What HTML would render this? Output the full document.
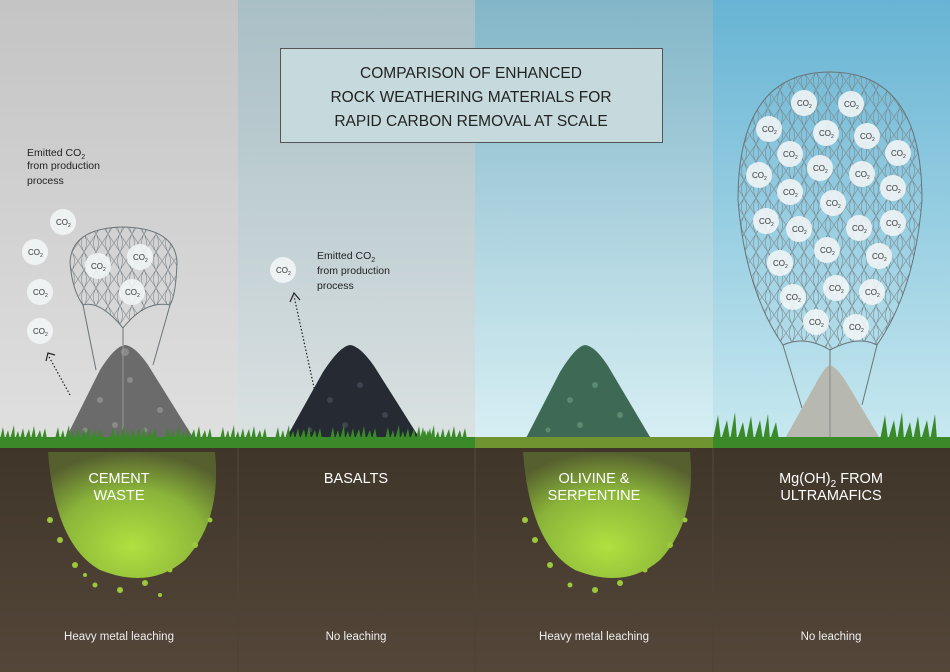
<!DOCTYPE html>
<html><head><meta charset="utf-8"><style>
html,body{margin:0;padding:0;width:950px;height:672px;overflow:hidden;background:#fff}
svg{display:block}
text{font-family:"Liberation Sans",Arial,sans-serif}
</style></head><body>
<svg width="950" height="672" viewBox="0 0 950 672" xmlns="http://www.w3.org/2000/svg">
<defs>
<linearGradient id="s1" x1="0" y1="0" x2="0" y2="1"><stop offset="0" stop-color="#c4c4c4"/><stop offset="1" stop-color="#e0e0e0"/></linearGradient>
<linearGradient id="s2" x1="0" y1="0" x2="0" y2="1"><stop offset="0" stop-color="#a9bfc6"/><stop offset="1" stop-color="#dbe2e2"/></linearGradient>
<linearGradient id="s3" x1="0" y1="0" x2="0" y2="1"><stop offset="0" stop-color="#83b6c8"/><stop offset="1" stop-color="#d8f0f5"/></linearGradient>
<linearGradient id="s4" x1="0" y1="0" x2="0" y2="1"><stop offset="0" stop-color="#67b4d4"/><stop offset="1" stop-color="#c9e9f0"/></linearGradient>
<linearGradient id="gr" x1="0" y1="0" x2="0" y2="1"><stop offset="0" stop-color="#3f3529"/><stop offset="1" stop-color="#54473a"/></linearGradient>
<radialGradient id="glow" cx="0.5" cy="0.75" r="0.75"><stop offset="0" stop-color="#b0e040"/><stop offset="0.6" stop-color="#8ab43a"/><stop offset="1" stop-color="#56602f"/></radialGradient>
<pattern id="net" width="12" height="18" patternUnits="userSpaceOnUse"><path d="M0 0 Q5 9 0 18 M12 0 Q7 9 12 18 M0 0 L6 9 L12 0 M0 18 L6 9 L12 18" stroke="#79848a" stroke-width="0.55" fill="none"/></pattern>
<g id="co2"><circle r="13" fill="#f2f6f7" opacity="0.88"/><text x="-7" y="3" font-size="8" fill="#333">CO<tspan font-size="5" dy="2">2</tspan></text></g>
<g id="blades"><path d="M0 12 l3 -12 l2 12 l3 -9 l2 9 l4 -14 l1 14 l3 -8 l2 8 l3 -11 l2 11 l4 -10 l2 10 l3 -13 l2 13 l4 -9 l2 9 l3 -11 l2 11" fill="#3a8a2a"/></g>
</defs>
<rect x="0" y="0" width="238" height="448" fill="url(#s1)"/>
<rect x="238" y="0" width="237" height="448" fill="url(#s2)"/>
<rect x="475" y="0" width="238" height="448" fill="url(#s3)"/>
<rect x="713" y="0" width="237" height="448" fill="url(#s4)"/>
<rect x="0" y="448" width="950" height="224" fill="url(#gr)"/>
<line x1="238" y1="448" x2="238" y2="672" stroke="#4d4336" stroke-width="1.5"/>
<line x1="475" y1="448" x2="475" y2="672" stroke="#4d4336" stroke-width="1.5"/>
<line x1="713" y1="448" x2="713" y2="672" stroke="#4d4336" stroke-width="1.5"/>

<!-- glows -->
<path d="M48 452 L215 452 Q222 520 185 560 Q150 590 100 570 Q55 545 48 452Z" fill="url(#glow)"/>
<g fill="#9cc83c"><circle cx="50" cy="520" r="3"/><circle cx="60" cy="540" r="3"/><circle cx="75" cy="565" r="3"/><circle cx="95" cy="585" r="2.5"/><circle cx="120" cy="590" r="3"/><circle cx="145" cy="583" r="3"/><circle cx="170" cy="570" r="2.5"/><circle cx="195" cy="545" r="3"/><circle cx="210" cy="520" r="2.5"/><circle cx="85" cy="575" r="2"/><circle cx="160" cy="595" r="2"/></g>
<path d="M523 452 L690 452 Q697 520 660 560 Q625 590 575 570 Q530 545 523 452Z" fill="url(#glow)"/>
<g fill="#9cc83c"><circle cx="525" cy="520" r="3"/><circle cx="535" cy="540" r="3"/><circle cx="550" cy="565" r="3"/><circle cx="570" cy="585" r="2.5"/><circle cx="595" cy="590" r="3"/><circle cx="620" cy="583" r="3"/><circle cx="645" cy="570" r="2.5"/><circle cx="670" cy="545" r="3"/><circle cx="685" cy="520" r="2.5"/></g>

<!-- title -->
<rect x="280.5" y="48.5" width="382" height="94" fill="#c6dadd" stroke="#555" stroke-width="1"/>
<text x="471" y="78" font-size="15.5" text-anchor="middle" fill="#222">COMPARISON OF ENHANCED</text>
<text x="471" y="102" font-size="15.5" text-anchor="middle" fill="#222">ROCK WEATHERING MATERIALS FOR</text>
<text x="471" y="126" font-size="15.5" text-anchor="middle" fill="#222">RAPID CARBON REMOVAL AT SCALE</text>

<!-- panel 1 -->
<text x="27" y="156" font-size="10.5" fill="#222">Emitted CO<tspan font-size="7" dy="3">2</tspan></text>
<text x="27" y="169" font-size="10.5" fill="#222">from production</text>
<text x="27" y="184" font-size="10.5" fill="#222">process</text>
<use href="#co2" x="63" y="222"/><use href="#co2" x="35" y="252"/><use href="#co2" x="40" y="292"/><use href="#co2" x="40" y="331"/>
<path d="M70 262 Q72 228 123 227 Q175 228 177 262 Q176 295 170 305 Q145 300 123 328 Q100 300 83 305 Q72 290 70 262Z" fill="url(#net)" stroke="#6a7478" stroke-width="1"/>
<use href="#co2" x="98" y="266"/><use href="#co2" x="140" y="257"/><use href="#co2" x="132" y="292"/>
<path d="M83 305 L96 370 M170 305 L153 365 M123 328 L123 440" stroke="#6a7478" stroke-width="1" fill="none"/>
<path d="M64 442 L100 370 Q115 346 125 345 Q135 346 148 365 L196 442Z" fill="#6b6b6b"/>
<g fill="#8a8a8a"><circle cx="100" cy="400" r="3"/><circle cx="130" cy="380" r="3"/><circle cx="160" cy="410" r="3"/><circle cx="115" cy="425" r="3"/><circle cx="145" cy="430" r="2.5"/><circle cx="85" cy="430" r="2.5"/><circle cx="125" cy="352" r="4"/></g>
<line x1="123" y1="345" x2="123" y2="440" stroke="#999" stroke-width="1"/>
<path d="M70 395 L48 355" stroke="#222" stroke-dasharray="1.5,2" stroke-width="1.2"/>
<path d="M46 361 L48 353 L55 355" stroke="#222" fill="none" stroke-width="1.2"/>

<!-- panel 2 -->
<use href="#co2" x="283" y="270"/>
<text x="317" y="259" font-size="10.5" fill="#222">Emitted CO<tspan font-size="7" dy="3">2</tspan></text>
<text x="317" y="274" font-size="10.5" fill="#222">from production</text>
<text x="317" y="289" font-size="10.5" fill="#222">process</text>
<path d="M315 392 L294 296" stroke="#222" stroke-dasharray="1.5,2" stroke-width="1.2"/>
<path d="M290 302 L294 293 L300 300" stroke="#222" fill="none" stroke-width="1.2"/>
<path d="M284 442 L323 372 Q340 346 350 345 Q360 346 374 366 L422 442Z" fill="#252a33"/>
<g fill="#3d4450"><circle cx="330" cy="400" r="3"/><circle cx="360" cy="385" r="3"/><circle cx="385" cy="415" r="3"/><circle cx="345" cy="425" r="3"/><circle cx="310" cy="430" r="2.5"/></g>

<!-- panel 3 -->
<path d="M524 442 L560 372 Q576 346 585 345 Q595 346 608 366 L653 442Z" fill="#3e6a55"/>
<g fill="#5a8a70"><circle cx="570" cy="400" r="3"/><circle cx="595" cy="385" r="3"/><circle cx="620" cy="415" r="3"/><circle cx="580" cy="425" r="3"/><circle cx="548" cy="430" r="2.5"/></g>

<!-- panel 4 -->
<path d="M738 200 Q738 72 830 72 Q922 72 922 200 Q915 290 877 345 Q858 335 830 350 Q805 335 783 345 Q745 290 738 200Z" fill="url(#net)" stroke="#6a7478" stroke-width="1"/>
<g>
<use href="#co2" x="804" y="103"/><use href="#co2" x="851" y="104"/><use href="#co2" x="769" y="129"/><use href="#co2" x="826" y="133"/><use href="#co2" x="867" y="136"/><use href="#co2" x="898" y="153"/><use href="#co2" x="790" y="154"/><use href="#co2" x="820" y="168"/><use href="#co2" x="862" y="174"/><use href="#co2" x="759" y="175"/><use href="#co2" x="893" y="188"/><use href="#co2" x="790" y="192"/><use href="#co2" x="833" y="203"/><use href="#co2" x="766" y="221"/><use href="#co2" x="799" y="229"/><use href="#co2" x="859" y="228"/><use href="#co2" x="893" y="223"/><use href="#co2" x="827" y="250"/><use href="#co2" x="879" y="256"/><use href="#co2" x="780" y="263"/><use href="#co2" x="836" y="288"/><use href="#co2" x="872" y="292"/><use href="#co2" x="793" y="297"/><use href="#co2" x="816" y="322"/><use href="#co2" x="856" y="327"/>
</g>
<path d="M783 345 L802 408 M877 345 L862 405 M830 350 L830 440" stroke="#6a7478" stroke-width="1" fill="none"/>
<path d="M783 442 L815 385 Q825 366 830 365 Q838 368 848 385 L882 442Z" fill="#b7b9b0"/>
<line x1="830" y1="365" x2="830" y2="440" stroke="#888" stroke-width="1"/>

<!-- grass -->
<rect x="0" y="437" width="950" height="11" fill="#3a8a2a"/>
<rect x="475" y="437" width="238" height="11" fill="#6f9430"/>
<use href="#blades" x="0" y="427"/><use href="#blades" x="55" y="427"/><use href="#blades" x="110" y="427"/><use href="#blades" x="165" y="427"/><use href="#blades" x="220" y="427"/><use href="#blades" x="275" y="427"/><use href="#blades" x="330" y="427"/><use href="#blades" x="385" y="427"/><use href="#blades" x="420" y="427"/>
<path d="M713 440 l5 -25 l3 25 l6 -20 l3 20 l5 -28 l2 28 l6 -18 l3 18 l5 -24 l3 24 l6 -20 l3 20 l5 -26 l2 26 l6 -18 l3 18" fill="#3a8a2a"/>
<path d="M880 440 l5 -25 l3 25 l6 -20 l3 20 l5 -28 l2 28 l6 -18 l3 18 l5 -24 l3 24 l6 -20 l3 20 l5 -26 l2 26" fill="#3a8a2a"/>

<!-- labels -->
<g fill="#fff" font-size="14.5" text-anchor="middle">
<text x="119" y="483">CEMENT</text><text x="119" y="500">WASTE</text>
<text x="356" y="483">BASALTS</text>
<text x="594" y="483">OLIVINE &amp;</text><text x="594" y="500">SERPENTINE</text>
<text x="831" y="483">Mg(OH)<tspan font-size="10" dy="4">2</tspan><tspan dy="-4"> FROM</tspan></text><text x="831" y="500">ULTRAMAFICS</text>
</g>
<g fill="#eee" font-size="11.5" text-anchor="middle">
<text x="119" y="640">Heavy metal leaching</text>
<text x="356" y="640">No leaching</text>
<text x="594" y="640">Heavy metal leaching</text>
<text x="831" y="640">No leaching</text>
</g>
</svg>
</body></html>
